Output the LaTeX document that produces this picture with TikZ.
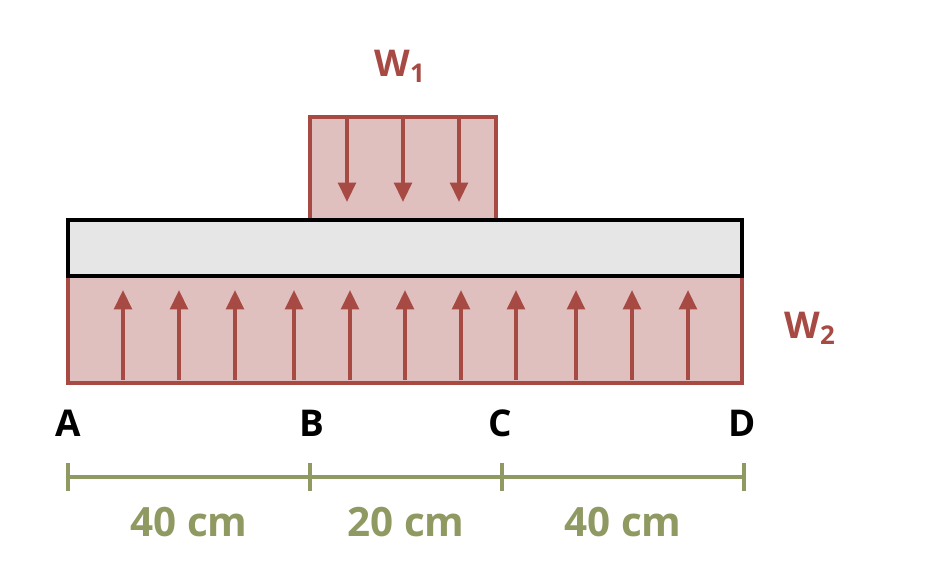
\documentclass[tikz,border=0pt]{standalone}
\usepackage{fontspec}
\setmainfont{Open Sans}
\usetikzlibrary{arrows.meta}
\definecolor{rd}{HTML}{A84A44}
\definecolor{pk}{HTML}{E0BFBF}
\definecolor{gy}{HTML}{E6E6E6}
\definecolor{ol}{HTML}{8F9A62}
\begin{document}
\begin{tikzpicture}[x=0.02cm,y=-0.02cm,
  load/.style={draw=rd,fill=pk,line width=2pt},
  arr/.style={rd,line width=2pt,-{Triangle[length=11pt,width=10pt]}},
  lbl/.style={font=\fontsize{21}{24}\selectfont\bfseries},
  dlbl/.style={font=\fontsize{23}{26}\selectfont\bfseries,text=ol},
  dim/.style={ol,line width=2.2pt}]
\useasboundingbox (0,0) rectangle (926,568);
\node[load,minimum width=186*0.02cm,minimum height=103*0.02cm,inner sep=0,anchor=north west] (w1box) at (308,115) {};
\node[load,minimum width=674*0.02cm,minimum height=107*0.02cm,inner sep=0,anchor=north west] (w2box) at (66,274) {};
\node[draw=black,fill=gy,line width=2.4pt,minimum width=674*0.02cm,minimum height=56*0.02cm,inner sep=0,anchor=north west] (beam) at (66,218) {};
\foreach \x in {347,403,459}{\coordinate (s\x) at (\x,117); \coordinate (e\x) at (\x,202); \draw[arr] (s\x)--(e\x);}
\foreach \x in {123,179,235,294,350,405,461,516,576,632,688}{\coordinate (u\x) at (\x,380); \coordinate (v\x) at (\x,290); \draw[arr] (u\x)--(v\x);}
\node[lbl,text=rd] (w1) at (400,66) {W\textsubscript{1}};
\node[lbl,text=rd] (w2) at (810,328) {W\textsubscript{2}};
\node[lbl] (A) at (68,423) {A};
\node[lbl] (B) at (312,423) {B};
\node[lbl] (C) at (500,423) {C};
\node[lbl] (D) at (742,423) {D};
\coordinate (p1) at (68,477); \coordinate (p2) at (310,477); \coordinate (p3) at (502,477); \coordinate (p4) at (744,477);
\draw[dim] (p1)--(p4);
\foreach \p in {p1,p2,p3,p4}{\draw[dim] ([yshift=-0.28cm]\p)--([yshift=0.28cm]\p);}
\node[dlbl] (d1) at (189,522) {40 cm};
\node[dlbl] (d2) at (406,522) {20 cm};
\node[dlbl] (d3) at (623,522) {40 cm};
\end{tikzpicture}
\end{document}
